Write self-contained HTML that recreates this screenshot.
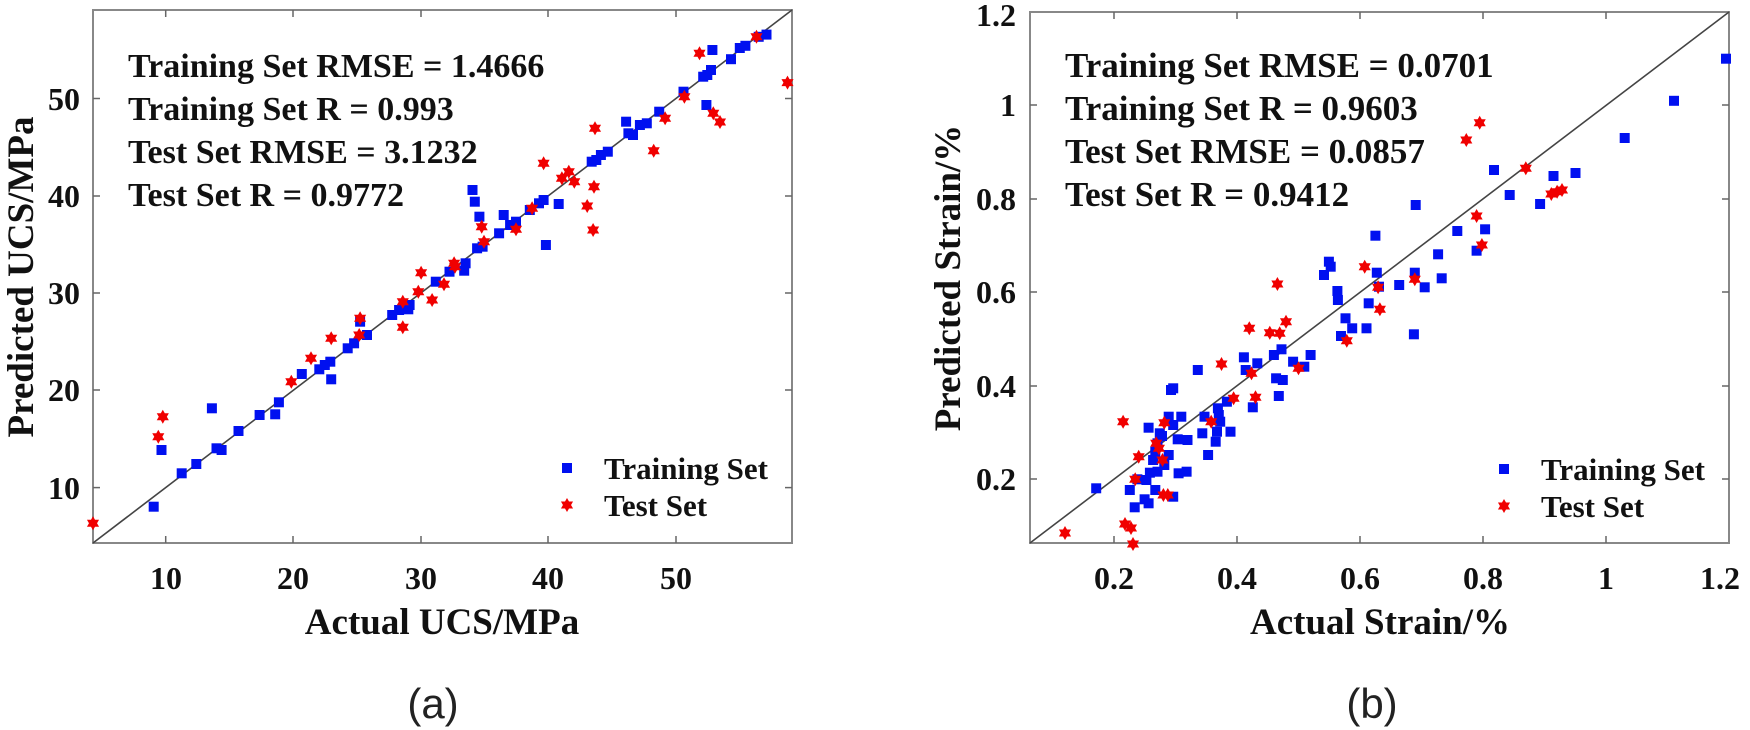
<!DOCTYPE html>
<html><head><meta charset="utf-8"><style>
html,body{margin:0;padding:0;background:#fff;}
svg{display:block;}
.t{font-family:"Liberation Serif",serif;font-weight:bold;fill:#111;}
</style></head><body>
<svg width="1750" height="730" viewBox="0 0 1750 730" xmlns="http://www.w3.org/2000/svg">
<defs>
<rect id="q" x="-5" y="-5" width="10" height="10" fill="#0010f0"/>
<path id="s" fill="#f00000" d="M0,-7 L2,-3.5 L6.06,-3.5 L4.04,0 L6.06,3.5 L2,3.5 L0,7 L-2,3.5 L-6.06,3.5 L-4.04,0 L-6.06,-3.5 L-2,-3.5Z"/>
</defs>

<!-- LEFT PLOT -->
<rect x="93" y="10" width="699" height="533" fill="none" stroke="#888" stroke-width="2"/>
<g stroke="#666" stroke-width="1.5">
<line x1="165.7" y1="543" x2="165.7" y2="536"/><line x1="293" y1="543" x2="293" y2="536"/><line x1="421" y1="543" x2="421" y2="536"/><line x1="548" y1="543" x2="548" y2="536"/><line x1="676" y1="543" x2="676" y2="536"/>
<line x1="165.7" y1="10" x2="165.7" y2="17"/><line x1="293" y1="10" x2="293" y2="17"/><line x1="421" y1="10" x2="421" y2="17"/><line x1="548" y1="10" x2="548" y2="17"/><line x1="676" y1="10" x2="676" y2="17"/>
<line x1="93" y1="487.6" x2="100" y2="487.6"/><line x1="93" y1="390" x2="100" y2="390"/><line x1="93" y1="293" x2="100" y2="293"/><line x1="93" y1="196" x2="100" y2="196"/><line x1="93" y1="98.5" x2="100" y2="98.5"/>
<line x1="792" y1="487.6" x2="785" y2="487.6"/><line x1="792" y1="390" x2="785" y2="390"/><line x1="792" y1="293" x2="785" y2="293"/><line x1="792" y1="196" x2="785" y2="196"/><line x1="792" y1="98.5" x2="785" y2="98.5"/>
</g>
<line x1="93" y1="543" x2="792" y2="10" stroke="#444" stroke-width="1.6"/>
<g class="t" font-size="32" text-anchor="end">
<text x="80" y="499">10</text><text x="80" y="401">20</text><text x="80" y="304">30</text><text x="80" y="207">40</text><text x="80" y="110">50</text>
</g>
<g class="t" font-size="32" text-anchor="middle">
<text x="166" y="589">10</text><text x="293" y="589">20</text><text x="421" y="589">30</text><text x="548" y="589">40</text><text x="676" y="589">50</text>
</g>
<text class="t" font-size="37" x="442" y="634" text-anchor="middle" fill="#222">Actual UCS/MPa</text>
<text class="t" font-size="37" transform="translate(33,277) rotate(-90)" text-anchor="middle">Predicted UCS/MPa</text>
<g class="t" font-size="34">
<text x="128" y="77">Training Set RMSE = 1.4666</text>
<text x="128" y="120">Training Set R = 0.993</text>
<text x="128" y="163">Test Set RMSE = 3.1232</text>
<text x="128" y="206">Test Set R = 0.9772</text>
</g>
<use href="#q" x="567" y="468"/><use href="#s" x="567" y="505"/>
<g class="t" font-size="31"><text x="604" y="479">Training Set</text><text x="604" y="516">Test Set</text></g>

<g>
<use href="#q" x="153.7" y="506.7"/><use href="#q" x="161.5" y="450"/><use href="#q" x="181.7" y="473.3"/><use href="#q" x="196.3" y="464"/><use href="#q" x="211.9" y="408.3"/><use href="#q" x="216.5" y="448.3"/><use href="#q" x="221.6" y="450"/><use href="#q" x="238.5" y="431"/><use href="#q" x="259.6" y="415"/><use href="#q" x="275.2" y="414.3"/><use href="#q" x="278.9" y="402.3"/><use href="#q" x="301.8" y="374"/><use href="#q" x="319.3" y="369.3"/><use href="#q" x="324.8" y="365"/><use href="#q" x="330.3" y="361.7"/><use href="#q" x="331.2" y="379.3"/><use href="#q" x="347.7" y="348.3"/><use href="#q" x="354.1" y="343.3"/><use href="#q" x="360.1" y="321.7"/><use href="#q" x="367" y="335"/><use href="#q" x="392.2" y="315"/><use href="#q" x="399.1" y="310"/><use href="#q" x="403.7" y="308.3"/><use href="#q" x="408.3" y="309.3"/><use href="#q" x="409.6" y="305"/><use href="#q" x="435.8" y="281.7"/><use href="#q" x="449.5" y="271.7"/><use href="#q" x="464.2" y="270.7"/><use href="#q" x="465.6" y="263.3"/><use href="#q" x="472.5" y="190"/><use href="#q" x="474.8" y="201.7"/><use href="#q" x="479.4" y="216.7"/><use href="#q" x="477.1" y="248.3"/><use href="#q" x="482.6" y="246.7"/><use href="#q" x="499.1" y="233.3"/><use href="#q" x="503.7" y="215"/><use href="#q" x="510.1" y="225"/><use href="#q" x="516" y="221.7"/><use href="#q" x="529.8" y="210"/><use href="#q" x="539" y="203.3"/><use href="#q" x="543.6" y="200"/><use href="#q" x="545.9" y="245"/><use href="#q" x="558.7" y="204"/><use href="#q" x="591.7" y="161.7"/><use href="#q" x="596.3" y="160"/><use href="#q" x="600.9" y="155"/><use href="#q" x="607.8" y="151.7"/><use href="#q" x="626.1" y="121.7"/><use href="#q" x="628.4" y="133.3"/><use href="#q" x="633" y="135"/><use href="#q" x="639.9" y="125"/><use href="#q" x="646.8" y="123.3"/><use href="#q" x="659.2" y="111.7"/><use href="#q" x="683.5" y="91.7"/><use href="#q" x="703.2" y="76.7"/><use href="#q" x="707.3" y="75"/><use href="#q" x="711" y="70"/><use href="#q" x="712.4" y="50"/><use href="#q" x="706.4" y="105"/><use href="#q" x="731" y="59.2"/><use href="#q" x="739.8" y="48"/><use href="#q" x="745.4" y="45.8"/><use href="#q" x="758.7" y="36.8"/><use href="#q" x="766.5" y="34.6"/>
</g>
<g>
<use href="#s" x="291.3" y="381.7"/><use href="#s" x="311" y="358.3"/><use href="#s" x="331.2" y="338.3"/><use href="#s" x="360.1" y="318.3"/><use href="#s" x="359.2" y="335"/><use href="#s" x="402.8" y="301.7"/><use href="#s" x="402.8" y="327.3"/><use href="#s" x="418.3" y="291.7"/><use href="#s" x="421.1" y="272.7"/><use href="#s" x="432.1" y="300"/><use href="#s" x="444" y="284.3"/><use href="#s" x="454.1" y="263.3"/><use href="#s" x="455" y="266.7"/><use href="#s" x="481.7" y="226.7"/><use href="#s" x="484" y="241.7"/><use href="#s" x="516" y="229.3"/><use href="#s" x="532.1" y="208.3"/><use href="#s" x="543.6" y="163.3"/><use href="#s" x="561.9" y="178.3"/><use href="#s" x="568.8" y="171.7"/><use href="#s" x="574.3" y="181.7"/><use href="#s" x="587.2" y="206"/><use href="#s" x="594" y="186.7"/><use href="#s" x="593.1" y="230"/><use href="#s" x="595" y="128.3"/><use href="#s" x="653.7" y="150.7"/><use href="#s" x="665.1" y="118.3"/><use href="#s" x="684.4" y="96.7"/><use href="#s" x="699.5" y="53.3"/><use href="#s" x="713.3" y="113.3"/><use href="#s" x="158.3" y="436.7"/><use href="#s" x="162.8" y="416.7"/><use href="#s" x="93" y="523.3"/><use href="#s" x="756.5" y="36.8"/><use href="#s" x="787.5" y="82.6"/><use href="#s" x="720" y="122"/>
</g>

<!-- RIGHT PLOT -->
<rect x="1030" y="12" width="699" height="531" fill="none" stroke="#888" stroke-width="2"/>
<g stroke="#666" stroke-width="1.5">
<line x1="1114" y1="543" x2="1114" y2="536"/><line x1="1237" y1="543" x2="1237" y2="536"/><line x1="1360" y1="543" x2="1360" y2="536"/><line x1="1483" y1="543" x2="1483" y2="536"/><line x1="1606" y1="543" x2="1606" y2="536"/>
<line x1="1114" y1="12" x2="1114" y2="19"/><line x1="1237" y1="12" x2="1237" y2="19"/><line x1="1360" y1="12" x2="1360" y2="19"/><line x1="1483" y1="12" x2="1483" y2="19"/><line x1="1606" y1="12" x2="1606" y2="19"/>
<line x1="1030" y1="479" x2="1037" y2="479"/><line x1="1030" y1="386" x2="1037" y2="386"/><line x1="1030" y1="292" x2="1037" y2="292"/><line x1="1030" y1="199" x2="1037" y2="199"/><line x1="1030" y1="105" x2="1037" y2="105"/>
<line x1="1729" y1="479" x2="1722" y2="479"/><line x1="1729" y1="386" x2="1722" y2="386"/><line x1="1729" y1="292" x2="1722" y2="292"/><line x1="1729" y1="199" x2="1722" y2="199"/><line x1="1729" y1="105" x2="1722" y2="105"/>
</g>
<line x1="1030" y1="543" x2="1729" y2="12" stroke="#444" stroke-width="1.6"/>
<g class="t" font-size="32" text-anchor="end">
<text x="1016" y="490">0.2</text><text x="1016" y="397">0.4</text><text x="1016" y="303">0.6</text><text x="1016" y="210">0.8</text><text x="1016" y="116">1</text><text x="1016" y="26">1.2</text>
</g>
<g class="t" font-size="32" text-anchor="middle">
<text x="1114" y="589">0.2</text><text x="1237" y="589">0.4</text><text x="1360" y="589">0.6</text><text x="1483" y="589">0.8</text><text x="1606" y="589">1</text><text x="1720" y="589">1.2</text>
</g>
<text class="t" font-size="37" x="1380" y="634" text-anchor="middle" fill="#222">Actual Strain/%</text>
<text class="t" font-size="37" transform="translate(960,278) rotate(-90)" text-anchor="middle">Predicted Strain/%</text>
<g class="t" font-size="35">
<text x="1065" y="77">Training Set RMSE = 0.0701</text>
<text x="1065" y="120">Training Set R = 0.9603</text>
<text x="1065" y="163">Test Set RMSE = 0.0857</text>
<text x="1065" y="206">Test Set R = 0.9412</text>
</g>
<use href="#q" x="1504" y="469"/><use href="#s" x="1504" y="506"/>
<g class="t" font-size="31"><text x="1541" y="480">Training Set</text><text x="1541" y="517">Test Set</text></g>

<g>
<use href="#q" x="1096.2" y="488.3"/><use href="#q" x="1129.8" y="490"/><use href="#q" x="1134.7" y="507.3"/><use href="#q" x="1144.6" y="499.3"/><use href="#q" x="1137.4" y="479.3"/><use href="#q" x="1146.4" y="480"/><use href="#q" x="1149.9" y="472.7"/><use href="#q" x="1153.1" y="460"/><use href="#q" x="1155.3" y="451.7"/><use href="#q" x="1157.5" y="443.3"/><use href="#q" x="1159.8" y="433.3"/><use href="#q" x="1162" y="436"/><use href="#q" x="1148.6" y="427.7"/><use href="#q" x="1157.5" y="471.7"/><use href="#q" x="1155.3" y="490"/><use href="#q" x="1148.6" y="503.3"/><use href="#q" x="1173.2" y="496.7"/><use href="#q" x="1178.6" y="473.3"/><use href="#q" x="1186.6" y="471.7"/><use href="#q" x="1164.3" y="465"/><use href="#q" x="1168.7" y="455"/><use href="#q" x="1177.7" y="439.3"/><use href="#q" x="1173.2" y="425"/><use href="#q" x="1168.7" y="416.7"/><use href="#q" x="1181.3" y="416.7"/><use href="#q" x="1171" y="390"/><use href="#q" x="1173.2" y="388.3"/><use href="#q" x="1187.5" y="440"/><use href="#q" x="1197.8" y="370"/><use href="#q" x="1202.3" y="433.3"/><use href="#q" x="1204.5" y="416.7"/><use href="#q" x="1208.1" y="455"/><use href="#q" x="1215.7" y="441.7"/><use href="#q" x="1217" y="431.7"/><use href="#q" x="1217.9" y="408.3"/><use href="#q" x="1218.8" y="415"/><use href="#q" x="1220.2" y="421.7"/><use href="#q" x="1226.9" y="401.7"/><use href="#q" x="1230.5" y="431.7"/><use href="#q" x="1243.9" y="357.3"/><use href="#q" x="1245.7" y="370"/><use href="#q" x="1252.8" y="407.3"/><use href="#q" x="1257.3" y="363.3"/><use href="#q" x="1273.9" y="355"/><use href="#q" x="1276.1" y="378.3"/><use href="#q" x="1278.8" y="396"/><use href="#q" x="1282.8" y="380"/><use href="#q" x="1281.5" y="349.3"/><use href="#q" x="1293.1" y="361.7"/><use href="#q" x="1304.3" y="366.7"/><use href="#q" x="1310.6" y="355"/><use href="#q" x="1324" y="275"/><use href="#q" x="1328.9" y="261.7"/><use href="#q" x="1330.7" y="266.7"/><use href="#q" x="1337.4" y="291"/><use href="#q" x="1337.9" y="300"/><use href="#q" x="1341" y="336"/><use href="#q" x="1345.5" y="318.3"/><use href="#q" x="1352.2" y="328.3"/><use href="#q" x="1366.5" y="328.3"/><use href="#q" x="1368.7" y="303.3"/><use href="#q" x="1375.4" y="235.7"/><use href="#q" x="1376.8" y="272.7"/><use href="#q" x="1379" y="286.7"/><use href="#q" x="1399.2" y="285"/><use href="#q" x="1413.9" y="334.3"/><use href="#q" x="1414.8" y="272.7"/><use href="#q" x="1415.7" y="205"/><use href="#q" x="1424.7" y="287.3"/><use href="#q" x="1438.1" y="254.3"/><use href="#q" x="1441.7" y="278.3"/><use href="#q" x="1457.3" y="231"/><use href="#q" x="1476.6" y="250.7"/><use href="#q" x="1485.1" y="229.3"/><use href="#q" x="1494" y="170"/><use href="#q" x="1509.7" y="195"/><use href="#q" x="1540.1" y="204"/><use href="#q" x="1553.5" y="176"/><use href="#q" x="1575.5" y="173"/><use href="#q" x="1624.7" y="138"/><use href="#q" x="1674" y="100.8"/><use href="#q" x="1726" y="58.7"/>
</g>
<g>
<use href="#s" x="1123.1" y="421.7"/><use href="#s" x="1135.2" y="479.3"/><use href="#s" x="1138.7" y="456.7"/><use href="#s" x="1156.2" y="443.3"/><use href="#s" x="1158.9" y="448.3"/><use href="#s" x="1164.3" y="422.7"/><use href="#s" x="1162.5" y="460"/><use href="#s" x="1163.4" y="495"/><use href="#s" x="1167.8" y="495"/><use href="#s" x="1211.2" y="421.7"/><use href="#s" x="1221.5" y="364"/><use href="#s" x="1233.6" y="398.3"/><use href="#s" x="1249.3" y="328.3"/><use href="#s" x="1251.5" y="373.3"/><use href="#s" x="1255.5" y="397.3"/><use href="#s" x="1269.8" y="332.7"/><use href="#s" x="1277.4" y="284"/><use href="#s" x="1279.7" y="333.3"/><use href="#s" x="1286" y="321.7"/><use href="#s" x="1298.5" y="368.3"/><use href="#s" x="1346.8" y="340.7"/><use href="#s" x="1364.7" y="266.7"/><use href="#s" x="1378.1" y="287.3"/><use href="#s" x="1379.9" y="309.3"/><use href="#s" x="1414.8" y="279.3"/><use href="#s" x="1466.3" y="140"/><use href="#s" x="1479.7" y="122.7"/><use href="#s" x="1476.6" y="216"/><use href="#s" x="1481.9" y="245"/><use href="#s" x="1525.8" y="168.3"/><use href="#s" x="1551.3" y="194"/><use href="#s" x="1557.1" y="191.7"/><use href="#s" x="1562" y="190"/><use href="#s" x="1065" y="533"/><use href="#s" x="1125" y="524"/><use href="#s" x="1131" y="528"/><use href="#s" x="1133" y="544"/>
</g>

<text x="433" y="718" font-family="Liberation Sans, sans-serif" font-size="42" fill="#222" text-anchor="middle">(a)</text>
<text x="1372" y="718" font-family="Liberation Sans, sans-serif" font-size="42" fill="#222" text-anchor="middle">(b)</text>
</svg>
</body></html>
